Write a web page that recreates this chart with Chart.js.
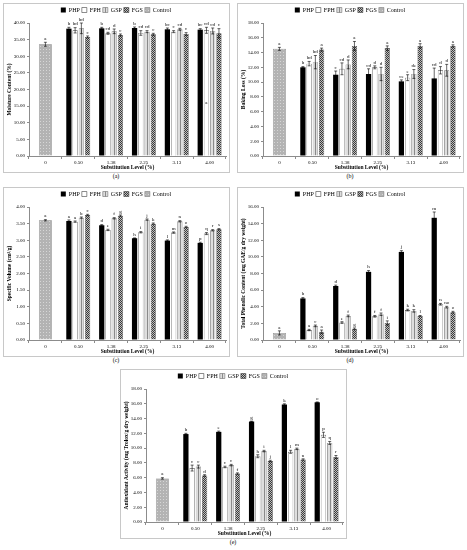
<!DOCTYPE html>
<html>
<head>
<meta charset="utf-8">
<script src="https://cdn.jsdelivr.net/npm/chart.js@4.4.1/dist/chart.umd.min.js"></script>
<style>
  body { margin: 0; background: #fff; width: 467px; height: 550px; position: relative; overflow: hidden; }
  canvas { position: absolute; }
  .cap { position: absolute; width: 40px; text-align: center; font: 6px "Liberation Serif"; color: #000; }
</style>
</head>
<body>
<canvas id="chart-a" width="227" height="170" style="left:3px;top:3px"></canvas>
<canvas id="chart-b" width="227" height="170" style="left:237px;top:3px"></canvas>
<canvas id="chart-c" width="227" height="170" style="left:3px;top:187px"></canvas>
<canvas id="chart-d" width="227" height="170" style="left:237px;top:187px"></canvas>
<canvas id="chart-e" width="227" height="170" style="left:120px;top:369px"></canvas>
<div class="cap" style="left:96px;top:173px">(a)</div>
<div class="cap" style="left:330px;top:173px">(b)</div>
<div class="cap" style="left:96px;top:357px">(c)</div>
<div class="cap" style="left:330px;top:357px">(d)</div>
<div class="cap" style="left:213px;top:539px">(e)</div>
<script>
let levels = ["0", "0.50", "1.38", "2.25", "3.13", "4.00"];
let seriesNames = ["PHP", "FPH", "GSP", "FGS", "Control"];

// rows follow seriesNames: PHP, FPH, GSP, FGS, Control
let moistureValues = [
  [null, 38.3, 38.4, 38.5, 38.1, 38.0],
  [null, 37.8, 36.9, 37.0, 37.4, 37.8],
  [null, 38.4, 37.5, 37.4, 38.1, 37.6],
  [null, 35.8, 36.4, 36.6, 36.7, 36.9],
  [33.6, null, null, null, null, null],
];
let moistureErrors = [
  [0, 0.4, 0.3, 0.3, 0.4, 0.3],
  [0, 0.8, 0.3, 0.7, 0.3, 0.9],
  [0, 1.6, 0.7, 0.3, 0.3, 0.9],
  [0, 0.3, 0.3, 0.3, 0.4, 1.4],
  [0.6, 0, 0, 0, 0, 0],
];
let moistureLetters = [
  ["", "b", "b", "b", "bc", "bc"],
  ["", "bd", "cd", "cd", "c", "cd"],
  ["", "bd", "d", "cd", "cd", "cd"],
  ["", "c", "c", "c", "c", "c"],
  ["a", "", "", "", "", ""],
];

let bakingValues = [
  [null, 12.0, 11.0, 11.1, 10.1, 10.5],
  [null, 12.5, 11.8, 12.0, 10.6, 11.6],
  [null, 12.7, 12.4, 11.1, 11.1, 11.6],
  [null, 14.4, 14.9, 14.6, 14.9, 14.9],
  [14.5, null, null, null, null, null],
];
let bakingErrors = [
  [0, 0.1, 0.5, 0.7, 0.2, 1.4],
  [0, 0.3, 0.8, 0.2, 0.4, 0.5],
  [0, 0.9, 0.6, 0.9, 0.6, 0.8],
  [0, 0.2, 0.6, 0.3, 0.3, 0.15],
  [0.2, 0, 0, 0, 0, 0],
];
let bakingLetters = [
  ["", "b", "c", "cd", "ce", "cd"],
  ["", "bd", "cd", "d", "e", "d"],
  ["", "bd", "d", "d", "de", "d"],
  ["", "a", "a", "a", "a", "a"],
  ["a", "", "", "", "", ""],
];

let volumeValues = [
  [null, 3.58, 3.45, 3.06, 2.99, 2.92],
  [null, 3.56, 3.31, 3.24, 3.23, 3.20],
  [null, 3.68, 3.66, 3.62, 3.57, 3.30],
  [null, 3.76, 3.74, 3.50, 3.40, 3.33],
  [3.60, null, null, null, null, null],
];
let volumeErrors = [
  [0, 0.03, 0.02, 0.01, 0.02, 0.02],
  [0, 0.02, 0.02, 0.02, 0.02, 0.03],
  [0, 0.02, 0.02, 0.02, 0.02, 0.02],
  [0, 0.02, 0.02, 0.02, 0.02, 0.02],
  [0.02, 0, 0, 0, 0, 0],
];
let volumeLetters = [
  ["", "a", "d", "h", "l", "p"],
  ["", "a", "e", "i", "m", "q"],
  ["", "b", "f", "j", "n", "r"],
  ["", "c", "g", "k", "o", "s"],
  ["a", "", "", "", "", ""],
];

let phenolicValues = [
  [null, 5.0, 6.5, 8.2, 10.6, 14.7],
  [null, 1.2, 2.1, 2.85, 3.6, 4.3],
  [null, 1.7, 2.9, 3.1, 3.5, 3.95],
  [null, 1.0, 1.35, 2.05, 2.9, 3.35],
  [0.85, null, null, null, null, null],
];
let phenolicErrors = [
  [0, 0.1, 0.1, 0.15, 0.15, 0.7],
  [0, 0.08, 0.1, 0.1, 0.1, 0.1],
  [0, 0.1, 0.1, 0.15, 0.15, 0.1],
  [0, 0.2, 0.1, 0.25, 0.05, 0.1],
  [0.25, 0, 0, 0, 0, 0],
];
let phenolicLetters = [
  ["", "b", "d", "h", "j", "m"],
  ["", "a", "e", "f", "k", "n"],
  ["", "c", "f", "f", "k", "no"],
  ["", "a", "g", "i", "l", "o"],
  ["a", "", "", "", "", ""],
];

let antioxValues = [
  [null, 11.9, 12.2, 13.6, 15.9, 16.2],
  [null, 7.3, 7.45, 8.9, 9.5, 11.8],
  [null, 7.5, 7.7, 9.6, 9.9, 10.7],
  [null, 6.3, 6.55, 8.25, 8.45, 8.8],
  [5.9, null, null, null, null, null],
];
let antioxErrors = [
  [0, 0.1, 0.1, 0.05, 0.1, 0.05],
  [0, 0.4, 0.1, 0.2, 0.2, 0.35],
  [0, 0.2, 0.1, 0.1, 0.1, 0.2],
  [0, 0.1, 0.1, 0.1, 0.1, 0.2],
  [0.1, 0, 0, 0, 0, 0],
];
let antioxLetters = [
  ["", "b", "e", "g", "k", "o"],
  ["", "c", "c", "h", "l", "p"],
  ["", "c", "c", "i", "m", "q"],
  ["", "d", "f", "j", "n", "r"],
  ["a", "", "", "", "", ""],
];

// stray letter printed inside panel (a): [series, category, value, text]
let moistureStray = [[1, 5, 15.2, "a"]];

const serif = "'Liberation Serif', 'Times New Roman', serif";

//fill patterns for the hatched series
function makePattern(size, bg, fg, cells) {
  let c = document.createElement("canvas");
  c.width = size;
  c.height = size;
  let p = c.getContext("2d");
  p.fillStyle = bg;
  p.fillRect(0, 0, size, size);
  p.fillStyle = fg;
  cells.forEach(([x, y]) => p.fillRect(x, y, 1, 1));
  return p.createPattern(c, "repeat");
}
let gspFill = makePattern(3, "#dedede", "#8a8a8a", [[0, 0], [0, 1], [0, 2]]);
let fgsFill = makePattern(4, "#bdbdbd", "#3a3a3a", [[0, 0], [2, 0], [1, 1], [3, 1], [0, 2], [2, 2], [1, 3], [3, 3]]);
let controlFill = makePattern(3, "#b3b3b3", "#d6d6d6", [[1, 1]]);

let fills = ["#000000", "#ffffff", gspFill, fgsFill, controlFill];
let borders = ["#000000", "#404040", "#707070", "#404040", "#7a7a7a"];

const panelFrame = {
  id: "panelFrame",
  beforeDraw(chart) {
    let ctx = chart.ctx;
    ctx.save();
    ctx.fillStyle = "#ffffff";
    ctx.fillRect(0, 0, chart.width, chart.height);
    ctx.strokeStyle = "#c8c8c8";
    ctx.lineWidth = 1;
    ctx.strokeRect(0.5, 0.5, chart.width - 1, chart.height - 1);
    ctx.restore();
  },
};

//error bars and significance letters
const errorBars = {
  id: "errorBars",
  afterDatasetsDraw(chart, args, opts) {
    let ctx = chart.ctx;
    let y = chart.scales.y;
    ctx.save();
    ctx.strokeStyle = "#000";
    ctx.lineWidth = 0.6;
    ctx.fillStyle = "#000";
    ctx.font = "5px " + serif;
    ctx.textAlign = "center";
    ctx.textBaseline = "bottom";
    chart.data.datasets.forEach((ds, i) => {
      let meta = chart.getDatasetMeta(i);
      meta.data.forEach((bar, j) => {
        let v = ds.data[j];
        if (v == null) return;
        let e = ds.errors[j];
        let top = y.getPixelForValue(v + e);
        let bottom = y.getPixelForValue(v - e);
        if (e > 0) {
          ctx.beginPath();
          ctx.moveTo(bar.x, top);
          ctx.lineTo(bar.x, bottom);
          ctx.moveTo(bar.x - 1.5, top);
          ctx.lineTo(bar.x + 1.5, top);
          ctx.moveTo(bar.x - 1.5, bottom);
          ctx.lineTo(bar.x + 1.5, bottom);
          ctx.stroke();
        }
        ctx.fillText(ds.letters[j], bar.x, Math.min(top, bar.y) - 1);
      });
    });
    (opts.stray || []).forEach(([s, k, v, t]) => {
      let bar = chart.getDatasetMeta(s).data[k];
      ctx.fillText(t, bar.x, y.getPixelForValue(v));
    });
    ctx.restore();
  },
};

function makeChart(id, yTitle, yMax, yStep, values, errors, letters, stray) {
  const ctx = document.getElementById(id).getContext("2d");
  let datasets = seriesNames.map((name, i) => ({
    label: name,
    data: values[i],
    errors: errors[i],
    letters: letters[i],
    backgroundColor: fills[i],
    borderColor: borders[i],
    borderWidth: i === 0 ? 0 : 0.6,
    grouped: i !== 4,
    categoryPercentage: 0.76,
    barPercentage: i === 4 ? 0.52 : 0.84,
  }));
  return new Chart(ctx, {
    type: "bar",
    data: { labels: levels, datasets: datasets },
    plugins: [panelFrame, errorBars],
    options: {
      responsive: false,
      animation: false,
      layout: { padding: { top: 2, left: 3, right: 4, bottom: 2 } },
      plugins: {
        legend: {
          position: "top",
          labels: {
            font: { family: serif, size: 6 },
            color: "#000",
            boxWidth: 5,
            boxHeight: 5,
            padding: 2,
          },
        },
        tooltip: { enabled: false },
        errorBars: { stray: stray },
      },
      scales: {
        x: {
          grid: { offset: true, drawOnChartArea: false, tickLength: 3, color: "#8c8c8c" },
          border: { color: "#8c8c8c" },
          ticks: { font: { family: serif, size: 5 }, color: "#000", padding: 1, maxRotation: 0 },
          title: {
            display: true,
            text: "Substitution Level (%)",
            font: { family: serif, size: 5.5, weight: "bold" },
            color: "#000",
            padding: 0,
          },
          afterFit: (scale) => { scale.height = 15; },
        },
        y: {
          min: 0,
          max: yMax,
          grid: { drawOnChartArea: false, tickLength: 2, color: "#8c8c8c" },
          border: { color: "#8c8c8c" },
          ticks: {
            stepSize: yStep,
            font: { family: serif, size: 5 },
            color: "#000",
            padding: 2,
            callback: (v) => v.toFixed(2),
          },
          title: {
            display: true,
            text: yTitle,
            font: { family: serif, size: 5.5, weight: "bold" },
            color: "#000",
            padding: 0,
          },
          afterFit: (scale) => { scale.width = 23; },
        },
      },
    },
  });
}

makeChart("chart-a", "Moisture Content (%)", 40, 5, moistureValues, moistureErrors, moistureLetters, moistureStray);
makeChart("chart-b", "Baking Loss (%)", 18, 2, bakingValues, bakingErrors, bakingLetters, []);
makeChart("chart-c", "Specific Volume (cm³/g)", 4, 0.5, volumeValues, volumeErrors, volumeLetters, []);
makeChart("chart-d", "Total Phenolic Content (mg GAE/g dry weight)", 16, 2, phenolicValues, phenolicErrors, phenolicLetters, []);
makeChart("chart-e", "Antioxidant Activity (mg Trolox/g dry weight)", 18, 2, antioxValues, antioxErrors, antioxLetters, []);
</script>
</body>
</html>
